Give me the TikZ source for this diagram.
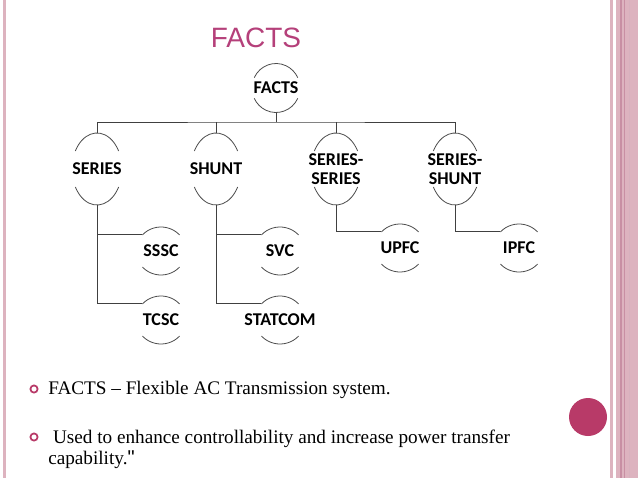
\documentclass[tikz,border=0pt]{standalone}
\usepackage{fontspec}
\setmainfont{Liberation Serif}
\newfontfamily\nodefont{Carlito}
\newfontfamily\titlefont{Liberation Sans}
\usetikzlibrary{shapes.geometric,calc}
\definecolor{pinkline}{HTML}{DDB3BF}
\definecolor{pinkdark}{HTML}{C88FA3}
\definecolor{titlepink}{HTML}{B5407A}
\definecolor{dotpink}{HTML}{B83A68}
\tikzset{arcst/.style={draw=black!70,line width=0.6pt},
 conn/.style={draw=black!75,line width=0.7pt},
 lbl/.style={font=\nodefont\bfseries\fontsize{13.5}{14.5}\selectfont,align=center}}
\newcommand\ovl[7]{%
 \node[ellipse,inner sep=0pt,minimum width={#4*1.5pt},minimum height={#5*1.5pt},lbl] (#1) at (#2,#3) {#7};
 \draw[arcst] (#1.center) ++(180+#6:#4 and #5) arc[start angle=180+#6,end angle=360-#6,x radius=#4,y radius=#5];
 \draw[arcst] (#1.center) ++(#6:#4 and #5) arc[start angle=#6,end angle=180-#6,x radius=#4,y radius=#5];
 \coordinate (#1-l) at ($(#1.center)+(180+#6:#4 and #5)$);}
\begin{document}
\begin{tikzpicture}[x=0.75pt,y=-0.75pt]
\useasboundingbox (0,0) rectangle (638,478);
\fill[white] (0,0) rectangle (638,478);
% borders
\fill[pinkline] (3,0) rectangle (5.5,478);
\fill[pinkline] (610,0) rectangle (612.5,478);
\fill[pinkline] (616,0) rectangle (638,478);
\fill[pinkdark] (620,0) rectangle (621.5,478);
\fill[pinkdark] (624,0) rectangle (625,478);
\fill[pinkdark!70] (629,0) rectangle (630,478);
\node[font=\titlefont\fontsize{21}{24}\selectfont,text=titlepink] (title) at (256,38) {FACTS};
% tree
\ovl{facts}{276}{88}{24}{24.5}{25}{FACTS}
\ovl{series}{97}{169}{25}{36}{30}{SERIES}
\ovl{shunt}{216}{169}{25}{36}{30}{SHUNT}
\ovl{ss}{336}{169}{25}{36}{30}{SERIES-\\SERIES}
\ovl{sh}{455}{169}{25}{36}{30}{SERIES-\\SHUNT}
\ovl{sssc}{161}{251}{25}{24}{42}{SSSC}
\ovl{tcsc}{161}{320}{25}{24}{42}{TCSC}
\ovl{svc}{280}{251}{25}{24}{42}{SVC}
\ovl{statcom}{280}{320}{25}{24}{42}{STATCOM}
\ovl{upfc}{400}{248}{25}{24}{42}{UPFC}
\ovl{ipfc}{519}{248}{25}{24}{42}{IPFC}
\coordinate (bar) at (276,122);
\draw[conn] (facts.south) -- (bar);
\draw[conn] (series.north) |- (bar) -| (sh.north);
\draw[conn] (shunt.north) -- (shunt.north |- bar);
\draw[conn] (ss.north) -- (ss.north |- bar);
\draw[conn] (series.south) |- (tcsc-l);
\draw[conn] (series.south |- sssc-l) -- (sssc-l);
\draw[conn] (shunt.south) |- (statcom-l);
\draw[conn] (shunt.south |- svc-l) -- (svc-l);
\draw[conn] (ss.south) |- (upfc-l);
\draw[conn] (sh.south) |- (ipfc-l);
% bullets
\draw[dotpink,line width=1.3pt] (34,389) circle (3.6);
\draw[dotpink,line width=1.3pt] (34,437) circle (3.6);
\node[anchor=base west,font=\fontsize{14.4}{16}\selectfont,inner sep=0pt] (b1) at (48,394) {FACTS – Flexible AC Transmission system.};
\node[anchor=base west,font=\fontsize{14.4}{16}\selectfont,inner sep=0pt,align=left] (b2) at (48,443) {\ Used to enhance controllability and increase power transfer};
\node[anchor=base west,font=\fontsize{14.4}{16}\selectfont,inner sep=0pt] (b3) at (48,464) {capability.{\titlefont\fontsize{15}{16}\selectfont "}};
\fill[dotpink] (588,417) circle (19);
\end{tikzpicture}
\end{document}
